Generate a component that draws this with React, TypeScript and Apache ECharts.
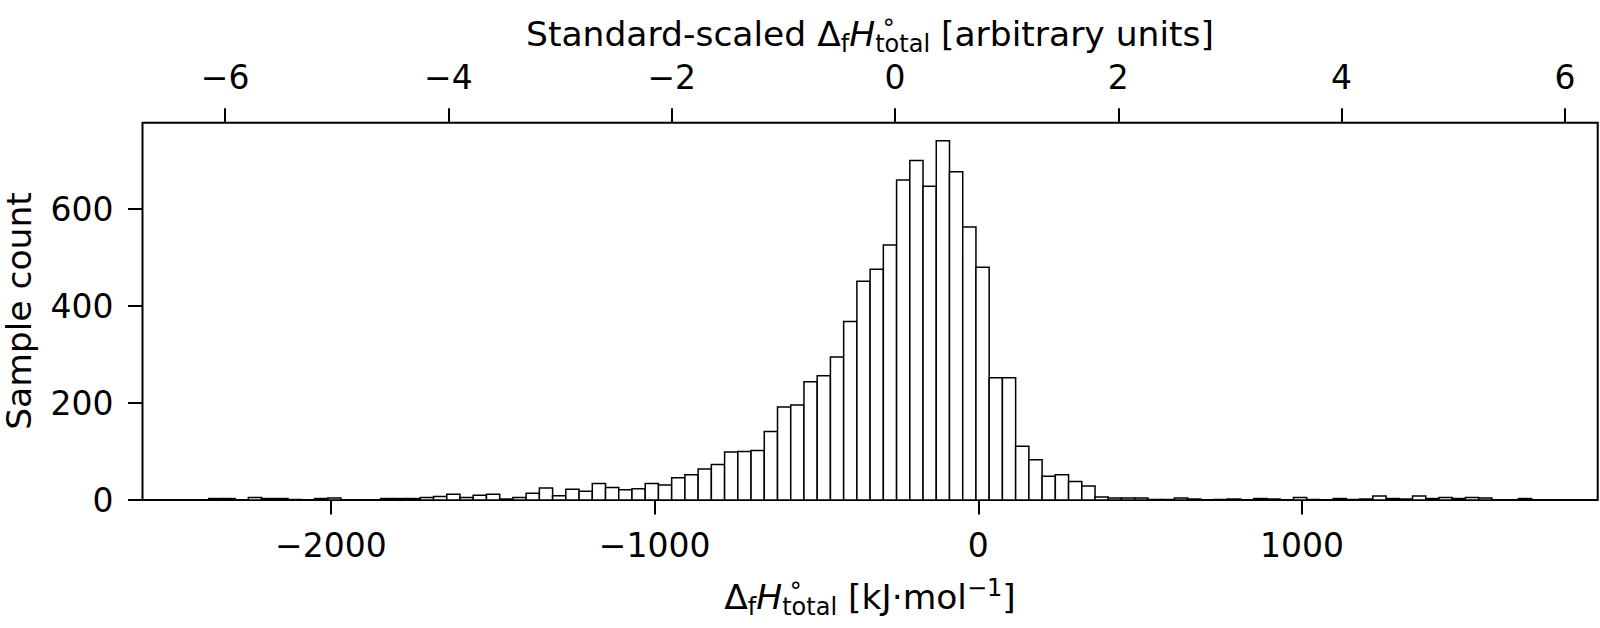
import React, { useEffect, useRef } from "react";
import * as echarts from "echarts";

// Histogram counts per bin (100 equal-width bins)
const COUNTS = [
  3, 3, 0, 5, 3, 3, 1, 0, 3, 4,
  0, 0, 0, 3, 3, 3, 5, 7, 12, 5,
  10, 12, 2, 5, 14, 25, 9, 22, 18, 34,
  26, 21, 23, 34, 31, 46, 52, 64, 73, 99,
  100, 102, 141, 192, 196, 244, 256, 295, 368, 451,
  476, 526, 660, 700, 647, 741, 677, 563, 480, 252,
  252, 111, 83, 49, 52, 38, 29, 6, 4, 4,
  4, 1, 1, 4, 2, 0, 1, 2, 0, 3,
  2, 0, 5, 1, 0, 3, 1, 2, 8, 3,
  2, 8, 3, 5, 3, 5, 4, 0, 0, 3,
];
const BIN_START = -2377.7;
const BIN_WIDTH = 40.87;

const X_MIN = -2582;
const X_MAX = 1913.5;
const Y_MAX = 778;
const MEAN = -257.3;
const STD = 344.9;

const BOTTOM_TICKS = [-2000, -1000, 0, 1000];
const TOP_TICKS = [-6, -4, -2, 0, 2, 4, 6];
const Y_TICKS = [0, 200, 400, 600];

const FONT = "DejaVu Sans";
const FS = 33;
const TFS = 34.5;
const SUB = 24;

type Part = { t: string; size: number; italic?: boolean; dy?: number; stack?: boolean };

let measureCtx: CanvasRenderingContext2D | null = null;
function textWidth(t: string, size: number, italic?: boolean) {
  if (!measureCtx) measureCtx = document.createElement("canvas").getContext("2d");
  measureCtx!.font = `${italic ? "italic " : ""}${size}px "${FONT}"`;
  return measureCtx!.measureText(t).width;
}

function layoutParts(parts: Part[]) {
  let x = 0;
  let prevStart = 0;
  let prevWidth = 0;
  const items: { x: number; p: Part }[] = [];
  for (const p of parts) {
    const w = textWidth(p.t, p.size, p.italic);
    if (p.stack) {
      items.push({ x: prevStart, p });
      const adv = Math.max(prevWidth, w);
      x = prevStart + adv;
      prevWidth = adv;
    } else {
      items.push({ x, p });
      prevStart = x;
      prevWidth = w;
      x += w;
    }
  }
  return { items, width: x };
}

function mathLabel(parts: Part[], center: number, baseline: number) {
  const { items, width } = layoutParts(parts);
  const x0 = center - width / 2;
  return items.map(({ x, p }) => ({
    type: "text",
    x: x0 + x,
    y: baseline - (p.dy || 0) - 0.32 * p.size,
    style: {
      text: p.t,
      fontSize: p.size,
      fontFamily: FONT,
      fontStyle: p.italic ? "italic" : "normal",
      fill: "#000",
      align: "left",
      verticalAlign: "middle",
    },
  }));
}

const fmt = (v: number) => (v < 0 ? "\u2212" + Math.abs(v) : String(v));

export default function App() {
  const ref = useRef<HTMLDivElement>(null);
  useEffect(() => {
    document.body.style.margin = "0";
    const chart = echarts.init(ref.current!, null, { renderer: "svg" });
    const data = COUNTS.map((c, i) => [BIN_START + i * BIN_WIDTH, BIN_START + (i + 1) * BIN_WIDTH, c]);

    const enthalpy = (tail: Part[]): Part[] => [
      { t: "\u0394", size: TFS },
      { t: "f", size: SUB, dy: -7 },
      { t: "H", size: TFS, italic: true },
      { t: " \u00b0", size: SUB, dy: 8 },
      { t: "total", size: SUB, dy: -7, stack: true },
      ...tail,
    ];

    const topTitle = mathLabel(
      [{ t: "Standard-scaled ", size: TFS }, ...enthalpy([{ t: " [arbitrary units]", size: TFS }])],
      870,
      45
    );
    const bottomTitle = mathLabel(
      enthalpy([
        { t: " [kJ\u00b7mol", size: TFS },
        { t: "\u22121", size: SUB, dy: 12 },
        { t: "]", size: TFS },
      ]),
      870,
      608
    );

    const axisCommon = {
      axisLine: { show: false, onZero: false },
      splitLine: { show: false },
    };
    const tickStyle = { color: "#000", width: 2 };
    const labelStyle = { color: "#000", fontSize: FS, fontFamily: FONT, margin: 29, formatter: fmt };

    chart.setOption({
      animation: false,
      backgroundColor: "#fff",
      grid: {
        left: 142.5,
        right: 2.3,
        top: 122.7,
        bottom: 128,
        show: true,
        borderColor: "#000",
        borderWidth: 2,
        backgroundColor: "transparent",
      },
      xAxis: [
        {
          type: "value",
          position: "bottom",
          min: X_MIN,
          max: X_MAX,
          ...axisCommon,
          axisTick: { show: true, customValues: BOTTOM_TICKS, length: 14.5, lineStyle: tickStyle },
          axisLabel: { customValues: BOTTOM_TICKS, ...labelStyle },
        },
        {
          type: "value",
          position: "top",
          min: (X_MIN - MEAN) / STD,
          max: (X_MAX - MEAN) / STD,
          ...axisCommon,
          axisTick: { show: true, customValues: TOP_TICKS, length: 14.5, lineStyle: tickStyle },
          axisLabel: { customValues: TOP_TICKS, ...labelStyle },
        },
      ],
      yAxis: {
        type: "value",
        position: "left",
        min: 0,
        max: Y_MAX,
        ...axisCommon,
        axisTick: { show: true, customValues: Y_TICKS, length: 14.5, lineStyle: tickStyle },
        axisLabel: { customValues: Y_TICKS, ...labelStyle },
      },
      graphic: [
        ...topTitle,
        ...bottomTitle,
        {
          type: "text",
          x: 18.5,
          y: 311,
          rotation: Math.PI / 2,
          style: {
            text: "Sample count",
            fontSize: TFS,
            fontFamily: FONT,
            fill: "#000",
            align: "center",
            verticalAlign: "middle",
          },
        },
      ],
      series: [
        {
          type: "custom",
          xAxisIndex: 0,
          yAxisIndex: 0,
          clip: true,
          encode: { x: [0, 1], y: 2 },
          data,
          renderItem: (params: any, api: any) => {
            const c = api.value(2);
            if (!c) return null;
            const p0 = api.coord([api.value(0), 0]);
            const p1 = api.coord([api.value(1), c]);
            return {
              type: "rect",
              shape: { x: p0[0], y: p1[1], width: p1[0] - p0[0], height: p0[1] - p1[1] },
              style: { fill: "#fff", stroke: "#000", lineWidth: 1.5 },
            };
          },
        },
      ],
    });
    return () => chart.dispose();
  }, []);
  return <div ref={ref} style={{ width: 1600, height: 628 }} />;
}
